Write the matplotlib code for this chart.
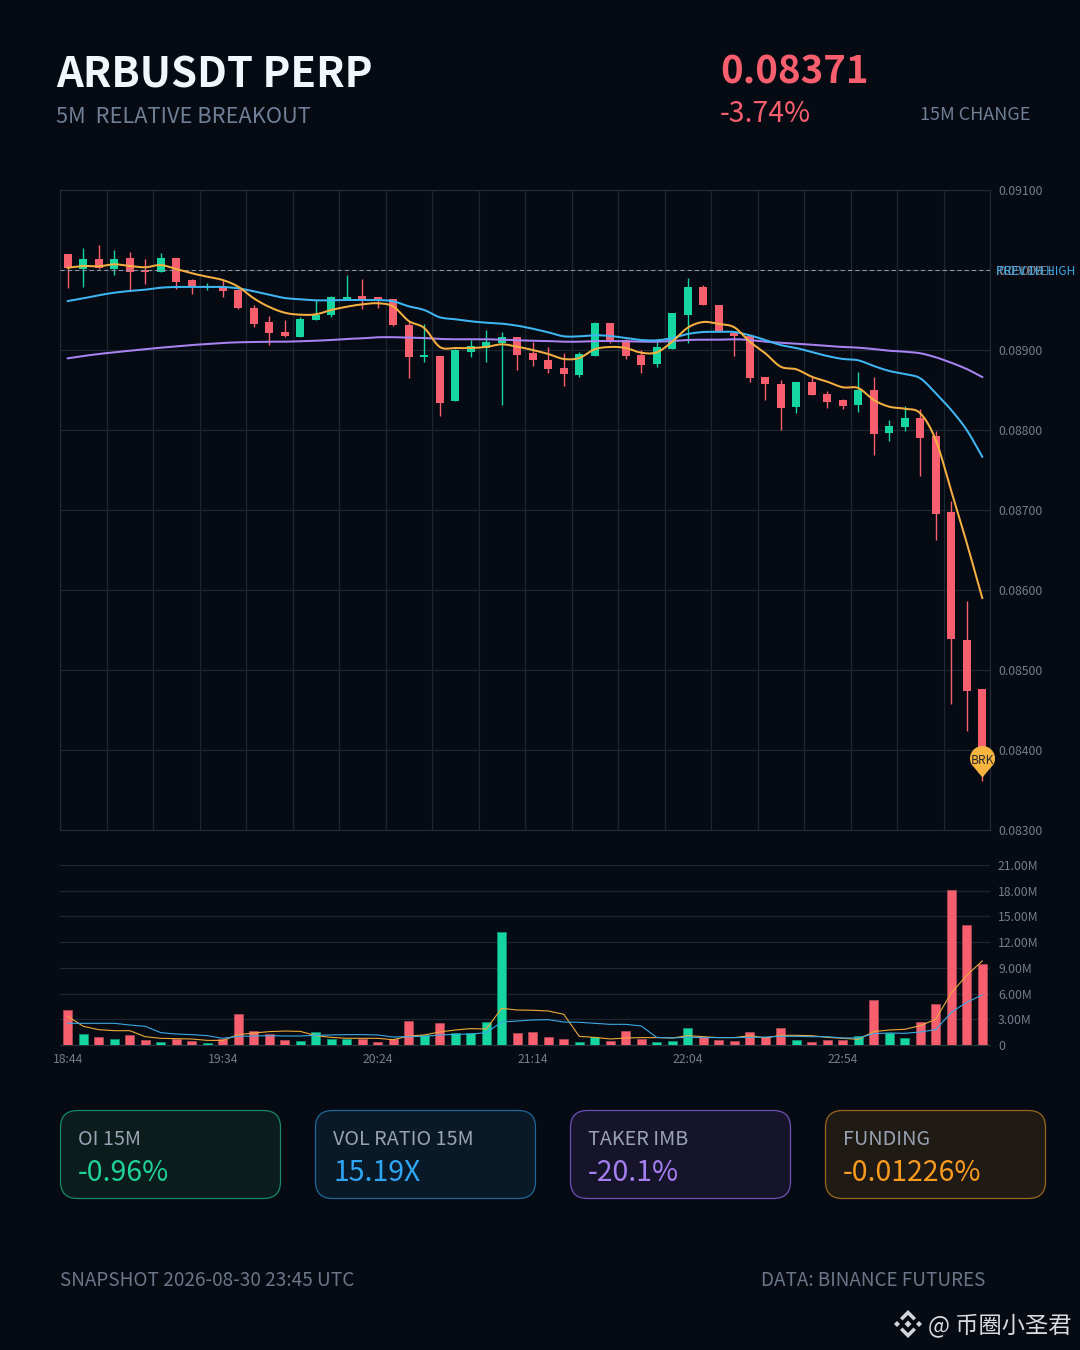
"""Recreates the ARBUSDT 5m breakout card: candles, volume panel and stat cards."""

import numpy as np
import matplotlib
matplotlib.use('Agg')
import matplotlib.pyplot as plt
from matplotlib.patches import FancyBboxPatch, Polygon
from matplotlib.path import Path

plt.rcParams['font.family'] = ['Noto Sans CJK SC', 'DejaVu Sans']

W, H = 1080, 1350
BG = '#060a12'
GRID = '#1c2734'
TICK = '#737d8c'
RED = '#f75f6e'
GREEN = '#15d6a0'

# Prices are in units of 0.00001
OPEN = [9020, 9001, 9014, 9001, 9015, 9000, 8998, 9015, 8988, 8979,
        8979, 8975, 8953, 8935, 8923, 8916, 8938, 8944, 8964, 8968,
        8966, 8964, 8931, 8891, 8893, 8836, 8898, 8903, 8909, 8916,
        8896, 8888, 8878, 8869, 8893, 8934, 8913, 8894, 8883, 8901,
        8944, 8979, 8956, 8921, 8918, 8866, 8858, 8829, 8860, 8845,
        8838, 8831, 8850, 8796, 8804, 8815, 8793, 8698, 8538, 8476]
HIGH = [9020, 9028, 9031, 9025, 9022, 9014, 9021, 9015, 8989, 8984,
        8988, 8976, 8956, 8943, 8938, 8941, 8963, 8968, 8994, 8989,
        8966, 8964, 8935, 8933, 8893, 8901, 8913, 8925, 8923, 8916,
        8910, 8904, 8896, 8898, 8935, 8934, 8914, 8900, 8910, 8946,
        8990, 8981, 8956, 8923, 8918, 8866, 8863, 8860, 8868, 8849,
        8839, 8873, 8866, 8813, 8830, 8826, 8799, 8711, 8586, 8476]
LOW = [8978, 8979, 9001, 8994, 8974, 8983, 8998, 8976, 8970, 8975,
       8966, 8951, 8929, 8906, 8916, 8916, 8938, 8941, 8964, 8951,
       8953, 8930, 8865, 8885, 8818, 8836, 8891, 8885, 8831, 8875,
       8880, 8871, 8855, 8866, 8893, 8909, 8889, 8871, 8879, 8901,
       8909, 8956, 8923, 8893, 8860, 8838, 8800, 8821, 8844, 8828,
       8826, 8823, 8769, 8786, 8799, 8743, 8663, 8458, 8424, 8361]
CLOSE = [9003, 9014, 9003, 9014, 8998, 8998, 9015, 8985, 8980, 8980,
         8974, 8953, 8933, 8921, 8918, 8939, 8944, 8966, 8966, 8964,
         8964, 8931, 8891, 8894, 8834, 8900, 8905, 8910, 8916, 8894,
         8888, 8876, 8870, 8895, 8934, 8911, 8893, 8881, 8904, 8946,
         8979, 8956, 8923, 8918, 8865, 8858, 8828, 8860, 8844, 8835,
         8830, 8850, 8795, 8805, 8815, 8790, 8695, 8539, 8474, 8371]

MA_FAST = [9002.9, 9005, 9004.6, 9007.1, 9005, 9003.4, 9006.2, 9001.2, 8995.9, 8991.6,
           8987.5, 8979.1, 8964.6, 8953.8, 8946.6, 8944.1, 8944.6, 8950, 8954.1, 8957.1,
           8958.4, 8954.4, 8936.2, 8927.5, 8903.8, 8902.5, 8902.5, 8903.8, 8907.1, 8904.1,
           8900, 8895, 8888.8, 8890, 8900.9, 8903.8, 8902.5, 8896.6, 8897.1, 8910.4,
           8927.9, 8935, 8932.5, 8928.4, 8910.4, 8895.9, 8879.1, 8875.9, 8866.6, 8860.4,
           8853.4, 8852.5, 8837.5, 8829.1, 8826.6, 8820.9, 8787.5, 8723.8, 8658.8, 8590]
MA_MID = [8961.2, 8964.6, 8968.4, 8971.6, 8973.8, 8975.4, 8977.9, 8978.8, 8978.8, 8978.8,
          8978.8, 8977.1, 8973.4, 8969.1, 8965, 8963.4, 8962.1, 8962.1, 8962.5, 8962.5,
          8962.5, 8960.9, 8954.6, 8950, 8940.9, 8938.4, 8935.9, 8934.1, 8932.9, 8930.4,
          8926.6, 8922.1, 8917.1, 8917.1, 8918.4, 8917.5, 8915, 8912.5, 8912.1, 8915,
          8920, 8922.5, 8922.7, 8922.5, 8918.4, 8912.5, 8906.2, 8902.5, 8897.5, 8892.5,
          8888.8, 8887.1, 8880, 8873.8, 8870, 8864.6, 8845.9, 8825, 8800, 8766.6]
MA_SLOW = [8889.6, 8892.5, 8895, 8897.1, 8899.1, 8901.2, 8902.9, 8904.6, 8906.2, 8907.5,
           8908.8, 8909.6, 8910, 8910.4, 8910.4, 8910.9, 8911.6, 8912.5, 8913.8, 8914.6,
           8915.9, 8916, 8915.4, 8915, 8913.8, 8913.4, 8913.4, 8913.4, 8912.9, 8912.1,
           8911.6, 8911.2, 8910.4, 8910.4, 8911.2, 8911.2, 8910.9, 8910.4, 8910.4, 8911.2,
           8912.5, 8912.9, 8912.9, 8913.4, 8912.5, 8910.4, 8909.1, 8907.9, 8906.6, 8905,
           8903.8, 8902.9, 8901.2, 8899.1, 8897.9, 8895.9, 8890.9, 8884.1, 8876.2, 8866.2]

PREV_HIGH = 9000
BRK_PRICE = 8366

# Volume in millions
VOLUME = [4.12, 1.24, 0.93, 0.74, 1.20, 0.62, 0.35, 0.74, 0.43, 0.27,
          0.66, 3.66, 1.67, 1.32, 0.62, 0.50, 1.48, 0.66, 0.66, 0.66,
          0.39, 0.66, 2.84, 1.17, 2.53, 1.44, 1.44, 2.72, 13.19, 1.44,
          1.50, 0.97, 0.70, 0.39, 0.89, 0.51, 1.67, 0.70, 0.39, 0.51,
          2.02, 0.89, 0.62, 0.51, 1.52, 0.89, 2.02, 0.58, 0.39, 0.62,
          0.58, 1.05, 5.25, 1.40, 0.82, 2.68, 4.78, 18.13, 13.97, 9.45]
VOL_FAST = [3.35, 2.18, 1.79, 1.67, 1.67, 0.97, 0.78, 0.74, 0.70, 0.54,
            0.54, 1.21, 1.40, 1.56, 1.63, 1.59, 1.09, 0.89, 0.78, 0.78,
            0.78, 0.62, 1.05, 1.17, 1.52, 1.75, 1.91, 1.87, 4.28, 4.08,
            4.05, 3.97, 3.58, 1.01, 0.89, 0.70, 0.82, 0.86, 0.86, 0.82,
            1.09, 0.97, 0.86, 0.86, 1.09, 0.82, 1.13, 1.13, 1.09, 0.89,
            0.78, 0.66, 1.56, 1.75, 1.83, 2.26, 3.00, 6.07, 8.13, 9.80]
VOL_SLOW = [2.53, 2.53, 2.53, 2.53, 2.33, 2.18, 1.44, 1.28, 1.21, 1.09,
            0.78, 1.01, 1.05, 1.09, 1.05, 1.05, 1.13, 1.17, 1.21, 1.21,
            1.17, 0.93, 0.97, 1.01, 1.17, 1.24, 1.28, 1.44, 2.68, 2.80,
            2.92, 2.96, 2.68, 2.65, 2.53, 2.41, 2.41, 2.22, 0.89, 0.82,
            0.89, 0.86, 0.86, 0.86, 0.89, 0.93, 1.01, 1.01, 0.97, 0.97,
            0.82, 0.82, 1.32, 1.40, 1.36, 1.52, 1.79, 3.81, 4.98, 5.84]

PRICE_TICKS = [0.083, 0.084, 0.085, 0.086, 0.087, 0.088, 0.089, 0.090, 0.091]
VOL_TICKS = [0, 3, 6, 9, 12, 15, 18, 21]
VOL_TICK_LABELS = ['0', '3.00M', '6.00M', '9.00M', '12.00M', '15.00M', '18.00M', '21.00M']
TIME_POS = [0, 10, 20, 30, 40, 50]
TIME_LABELS = ['18:44', '19:34', '20:24', '21:14', '22:04', '22:54']

CARD_TITLES = ['OI 15M', 'VOL RATIO 15M', 'TAKER IMB', 'FUNDING']
CARD_VALUES = ['-0.96%', '15.19X', '-20.1%', '-0.01226%']
CARD_COLORS = ['#1fd398', '#2ea6f5', '#a57ff2', '#f89b1f']
CARD_FILLS = ['#0b1c1c', '#0a1927', '#16142a', '#1f1a14']
CARD_EDGES = ['#168a66', '#20689a', '#6f50b8', '#9a6820']


def px(size):
    return size * 0.72


def smooth(x, y, steps=8):
    """Catmull-Rom curve through the points, like the smoothed source lines."""
    x, y = np.asarray(x, float), np.asarray(y, float)
    m = np.gradient(y, x)
    xs, ys = [], []
    for i in range(len(x) - 1):
        t = np.linspace(0, 1, steps, endpoint=False)
        h = x[i + 1] - x[i]
        ys.append((2*t**3 - 3*t**2 + 1) * y[i] + (t**3 - 2*t**2 + t) * h * m[i]
                  + (-2*t**3 + 3*t**2) * y[i + 1] + (t**3 - t**2) * h * m[i + 1])
        xs.append(x[i] + t * h)
    return np.append(np.concatenate(xs), x[-1]), np.append(np.concatenate(ys), y[-1])


def axes_px(left, top, right, bottom):
    return fig.add_axes([left / W, 1 - bottom / H, (right - left) / W, (bottom - top) / H])


def put(x, y, text, color, size, weight='normal', ha='left'):
    fig.text(x / W, 1 - y / H, text, color=color, fontsize=px(size),
             fontweight=weight, ha=ha, va='baseline')


fig = plt.figure(figsize=(W / 100, H / 100), dpi=100, facecolor=BG)

# price panel
ax = axes_px(60, 190, 990, 830)
ax.set_facecolor(BG)
idx = np.arange(len(OPEN))
o, h, l, c = [np.array(a) / 1e5 for a in (OPEN, HIGH, LOW, CLOSE)]
colors = [GREEN if cc >= oo else RED for oo, cc in zip(o, c)]

ax.vlines(idx, l, h, colors=colors, linewidth=1.0, zorder=3)
ax.bar(idx, np.abs(c - o), bottom=np.minimum(o, c), width=0.52, color=colors,
       linewidth=0, zorder=4)

ax.plot(*smooth(idx, np.array(MA_SLOW) / 1e5), color='#a784f2', lw=1.45, zorder=5)
ax.plot(*smooth(idx, np.array(MA_MID) / 1e5), color='#3fb6f4', lw=1.45, zorder=6)
ax.plot(*smooth(idx, np.array(MA_FAST) / 1e5), color='#f5b041', lw=1.45, zorder=7)
ax.axhline(PREV_HIGH / 1e5, color='#8c97ab', lw=0.75, ls=(0, (4, 3)), zorder=5)

ax.set_xlim(-0.5, 59.5)
ax.set_ylim(0.083, 0.091)
ax.set_xticks(np.arange(-0.5, 60, 3))
ax.set_xticklabels([])
ax.set_yticks(PRICE_TICKS)
ax.set_yticklabels(['%.5f' % p for p in PRICE_TICKS])
ax.yaxis.tick_right()
ax.tick_params(axis='both', length=0, colors=TICK, labelsize=px(12.2), pad=px(8))
ax.grid(True, color=GRID, lw=0.9, zorder=0)
ax.set_axisbelow(True)
for s in ax.spines.values():
    s.set_color('#1f2b39')
    s.set_linewidth(0.9)

# overlapping labels of the reference line, they sit on the same spot in the source
put(996, 275, 'REF LEVEL', TICK, 12)
put(996, 275, 'PREV 1H HIGH', '#3aa6e6', 12)

# breakout pin, tip sits on the data point
t = np.linspace(-0.15 * np.pi, 1.15 * np.pi, 40)
pin_xy = np.column_stack([12.5 * np.cos(t), 19 + 12.5 * np.sin(t)])
pin_xy = np.vstack([[0, 0], pin_xy, [0, 0]])
ax.plot(59, BRK_PRICE / 1e5, marker=Path(pin_xy), ms=px(2 * 31.5), mfc='#f7b43f', mec='none',
        clip_on=False, zorder=9)
ax.annotate('BRK', (59, BRK_PRICE / 1e5), xytext=(0, px(17)), textcoords='offset points',
            ha='center', va='center', color='#2a2a2a', fontsize=px(12), annotation_clip=False,
            zorder=10)

# volume panel
vx = axes_px(60, 865, 990, 1045)
vx.set_facecolor(BG)
edge = ['#0f8f6e' if col == GREEN else '#a84854' for col in colors]
vx.bar(idx, VOLUME, width=0.55, color=colors, edgecolor=edge, linewidth=0.6, zorder=3)
vx.plot(idx, VOL_FAST, color='#eca93c', lw=0.8, zorder=4)
vx.plot(idx, VOL_SLOW, color='#3aa9e6', lw=0.8, zorder=5)
vx.set_xlim(-0.5, 59.5)
vx.set_ylim(0, 21)
vx.set_yticks(VOL_TICKS)
vx.set_yticklabels(VOL_TICK_LABELS)
vx.yaxis.tick_right()
vx.set_xticks(TIME_POS)
vx.set_xticklabels(TIME_LABELS)
vx.tick_params(axis='both', length=0, colors=TICK, labelsize=px(12.2), pad=px(8))
vx.grid(True, axis='y', color=GRID, lw=0.9, zorder=0)
vx.set_axisbelow(True)
for name, s in vx.spines.items():
    s.set_visible(name == 'bottom')
    s.set_color('#263240')
    s.set_linewidth(0.9)

# overlay in pixel coordinates for cards and logo
ov = fig.add_axes([0, 0, 1, 1], zorder=-1)
ov.set_xlim(0, W)
ov.set_ylim(H, 0)
ov.axis('off')

for i in range(4):
    x0 = 60 + 255 * i
    ov.add_patch(FancyBboxPatch((x0 + 0.5, 1110.5), 220, 88, boxstyle='round,pad=0,rounding_size=17',
                                facecolor=CARD_FILLS[i], edgecolor=CARD_EDGES[i], linewidth=0.9))
    put(x0 + 18, 1145, CARD_TITLES[i], '#98a2b3', 19.8)
    put(x0 + 18, 1181, CARD_VALUES[i], CARD_COLORS[i], 28.4)

# header
put(56, 87, 'ARBUSDT PERP', '#f2f6fd', 41.9, weight='bold')
put(56, 123, '5M  RELATIVE BREAKOUT', '#6f7f96', 21.8)
put(720, 84, '0.08371', RED, 38.4, weight='bold')
put(720, 122, '-3.74%', RED, 28.4)
put(1030, 120, '15M CHANGE', '#6f7f96', 18, ha='right')

# footer
put(60, 1286, 'SNAPSHOT 2026-08-30 23:45 UTC', '#6b7789', 19)
put(761, 1286, 'DATA: BINANCE FUTURES', '#6b7789', 18.9)

# watermark logo
lx, ly = 908, 1324
logo = '#d4d6da'
for dx, dy, r in [(0, 0, 3.5), (-11, 0, 3), (11, 0, 3)]:
    ov.add_patch(Polygon([(lx + dx - r, ly + dy), (lx + dx, ly + dy - r),
                          (lx + dx + r, ly + dy), (lx + dx, ly + dy + r)], color=logo, lw=0))
for sign in (-1, 1):
    ov.add_patch(Polygon([(lx - 8, ly + sign * 6), (lx, ly + sign * 14), (lx + 8, ly + sign * 6),
                          (lx + 5.5, ly + sign * 3.5), (lx, ly + sign * 9), (lx - 5.5, ly + sign * 3.5)],
                         color=logo, lw=0))
put(928, 1332, '@ 币圈小圣君', '#d8dade', 23.3)

fig.savefig('out.png', dpi=100, facecolor=BG)
